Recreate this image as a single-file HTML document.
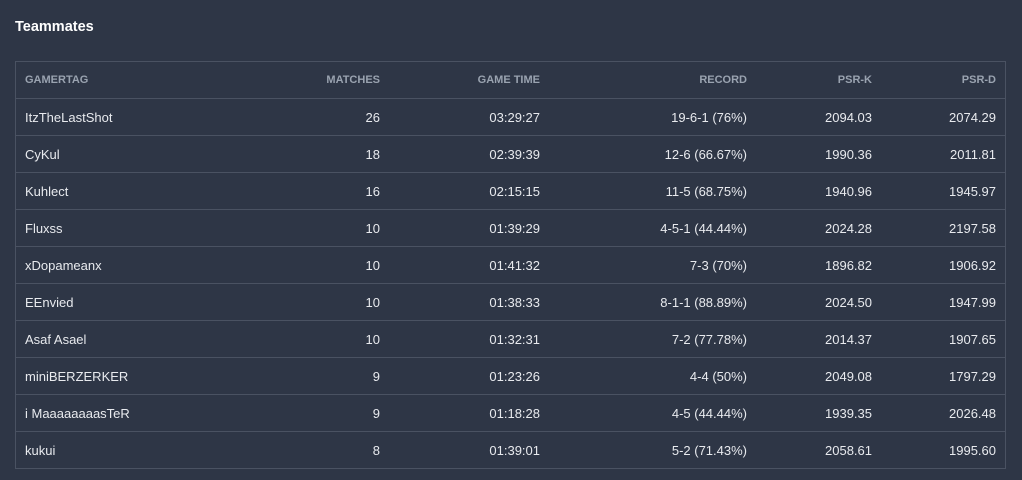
<!DOCTYPE html>
<html><head><style>
body{margin:0;width:1022px;height:480px;background:#2e3646;font-family:"Liberation Sans",sans-serif;color:#e8eaee;overflow:hidden;position:relative}
h1{position:absolute;left:15px;top:19px;margin:0;font-size:14.5px;font-weight:bold;color:#fff}
table{position:absolute;left:15px;top:61px;width:991px;border-collapse:collapse;font-size:13px}
td,th{border-top:1px solid #4a5262;border-bottom:1px solid #4a5262;height:36px;padding:0 9px;text-align:right}
tr>*:first-child{text-align:left;border-left:1px solid #4a5262}
tr>*:last-child{border-right:1px solid #4a5262}
th{font-size:11px;font-weight:bold;color:#9aa3b0}
</style></head><body>
<h1>Teammates</h1>
<table>
<tr><th style="width:190px">GAMERTAG</th><th style="width:147px">MATCHES</th><th style="width:142px">GAME TIME</th><th style="width:189px">RECORD</th><th style="width:107px">PSR-K</th><th>PSR-D</th></tr>
<tr><td>ItzTheLastShot</td><td>26</td><td>03:29:27</td><td>19-6-1 (76%)</td><td>2094.03</td><td>2074.29</td></tr>
<tr><td>CyKul</td><td>18</td><td>02:39:39</td><td>12-6 (66.67%)</td><td>1990.36</td><td>2011.81</td></tr>
<tr><td>Kuhlect</td><td>16</td><td>02:15:15</td><td>11-5 (68.75%)</td><td>1940.96</td><td>1945.97</td></tr>
<tr><td>Fluxss</td><td>10</td><td>01:39:29</td><td>4-5-1 (44.44%)</td><td>2024.28</td><td>2197.58</td></tr>
<tr><td>xDopameanx</td><td>10</td><td>01:41:32</td><td>7-3 (70%)</td><td>1896.82</td><td>1906.92</td></tr>
<tr><td>EEnvied</td><td>10</td><td>01:38:33</td><td>8-1-1 (88.89%)</td><td>2024.50</td><td>1947.99</td></tr>
<tr><td>Asaf Asael</td><td>10</td><td>01:32:31</td><td>7-2 (77.78%)</td><td>2014.37</td><td>1907.65</td></tr>
<tr><td>miniBERZERKER</td><td>9</td><td>01:23:26</td><td>4-4 (50%)</td><td>2049.08</td><td>1797.29</td></tr>
<tr><td>i MaaaaaaaasTeR</td><td>9</td><td>01:18:28</td><td>4-5 (44.44%)</td><td>1939.35</td><td>2026.48</td></tr>
<tr><td>kukui</td><td>8</td><td>01:39:01</td><td>5-2 (71.43%)</td><td>2058.61</td><td>1995.60</td></tr>
</table>
</body></html>
